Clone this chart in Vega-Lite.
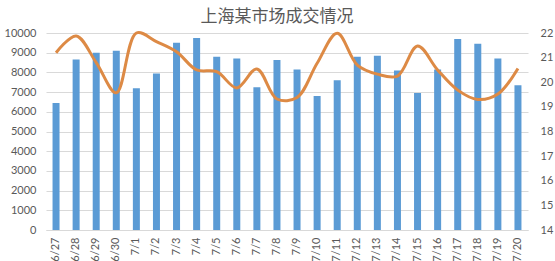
{
  "$schema": "https://vega.github.io/schema/vega-lite/v6.json",
  "autosize": "none",
  "width": 482,
  "height": 197,
  "padding": {"left": 46, "top": 33, "right": 27, "bottom": 31},
  "background": "white",
  "title": {
    "text": "上海某市场成交情况",
    "font": "Noto Sans CJK SC",
    "fontSize": 17,
    "fontWeight": "normal",
    "color": "#595959",
    "anchor": "middle",
    "frame": "group",
    "baseline": "bottom",
    "offset": 5,
    "dx": -10,
    "dy": 21
  },
  "config": {
    "view": {"stroke": null},
    "axis": {
      "labelFont": "Lato",
      "labelFontSize": 11,
      "labelColor": "#595959",
      "ticks": false,
      "domain": false,
      "title": null,
      "gridColor": "#D9D9D9"
    }
  },
  "data": {
    "values": [
      {"date": "6/27", "volume": 6450, "price": 21.2},
      {"date": "6/28", "volume": 8650, "price": 21.88},
      {"date": "6/29", "volume": 9000, "price": 20.8},
      {"date": "6/30", "volume": 9100, "price": 19.57},
      {"date": "7/1", "volume": 7200, "price": 22.0},
      {"date": "7/2", "volume": 7950, "price": 21.65},
      {"date": "7/3", "volume": 9500, "price": 21.24},
      {"date": "7/4", "volume": 9750, "price": 20.5},
      {"date": "7/5", "volume": 8800, "price": 20.43},
      {"date": "7/6", "volume": 8700, "price": 19.77},
      {"date": "7/7", "volume": 7250, "price": 20.54},
      {"date": "7/8", "volume": 8630, "price": 19.32},
      {"date": "7/9", "volume": 8150, "price": 19.38},
      {"date": "7/10", "volume": 6800, "price": 20.77},
      {"date": "7/11", "volume": 7600, "price": 21.99},
      {"date": "7/12", "volume": 8800, "price": 20.7},
      {"date": "7/13", "volume": 8850, "price": 20.33},
      {"date": "7/14", "volume": 8100, "price": 20.25},
      {"date": "7/15", "volume": 6950, "price": 21.47},
      {"date": "7/16", "volume": 8150, "price": 20.5},
      {"date": "7/17", "volume": 9700, "price": 19.68},
      {"date": "7/18", "volume": 9450, "price": 19.3},
      {"date": "7/19", "volume": 8700, "price": 19.52},
      {"date": "7/20", "volume": 7350, "price": 20.56}
    ]
  },
  "encoding": {
    "x": {
      "field": "date",
      "type": "ordinal",
      "sort": null,
      "scale": {"paddingInner": 0, "paddingOuter": 0},
      "axis": {
        "labelAngle": 270,
        "labelPadding": 7,
        "domain": true,
        "domainColor": "#D9D9D9",
        "grid": false
      }
    }
  },
  "layer": [
    {
      "mark": {"type": "bar", "width": 7, "color": "#5B9BD5"},
      "encoding": {
        "y": {
          "field": "volume",
          "type": "quantitative",
          "scale": {"domain": [0, 10000], "nice": false},
          "axis": {
            "values": [0, 1000, 2000, 3000, 4000, 5000, 6000, 7000, 8000, 9000, 10000],
            "grid": true,
            "labelPadding": 10,
            "format": "d"
          }
        }
      }
    },
    {
      "mark": {"type": "line", "color": "#DD8A45", "strokeWidth": 3, "interpolate": "catmull-rom"},
      "encoding": {
        "y": {
          "field": "price",
          "type": "quantitative",
          "scale": {"domain": [14, 22], "nice": false, "zero": false},
          "axis": {
            "orient": "right",
            "values": [14, 15, 16, 17, 18, 19, 20, 21, 22],
            "grid": false,
            "labelPadding": 12
          }
        }
      }
    }
  ],
  "resolve": {"scale": {"y": "independent"}}
}
